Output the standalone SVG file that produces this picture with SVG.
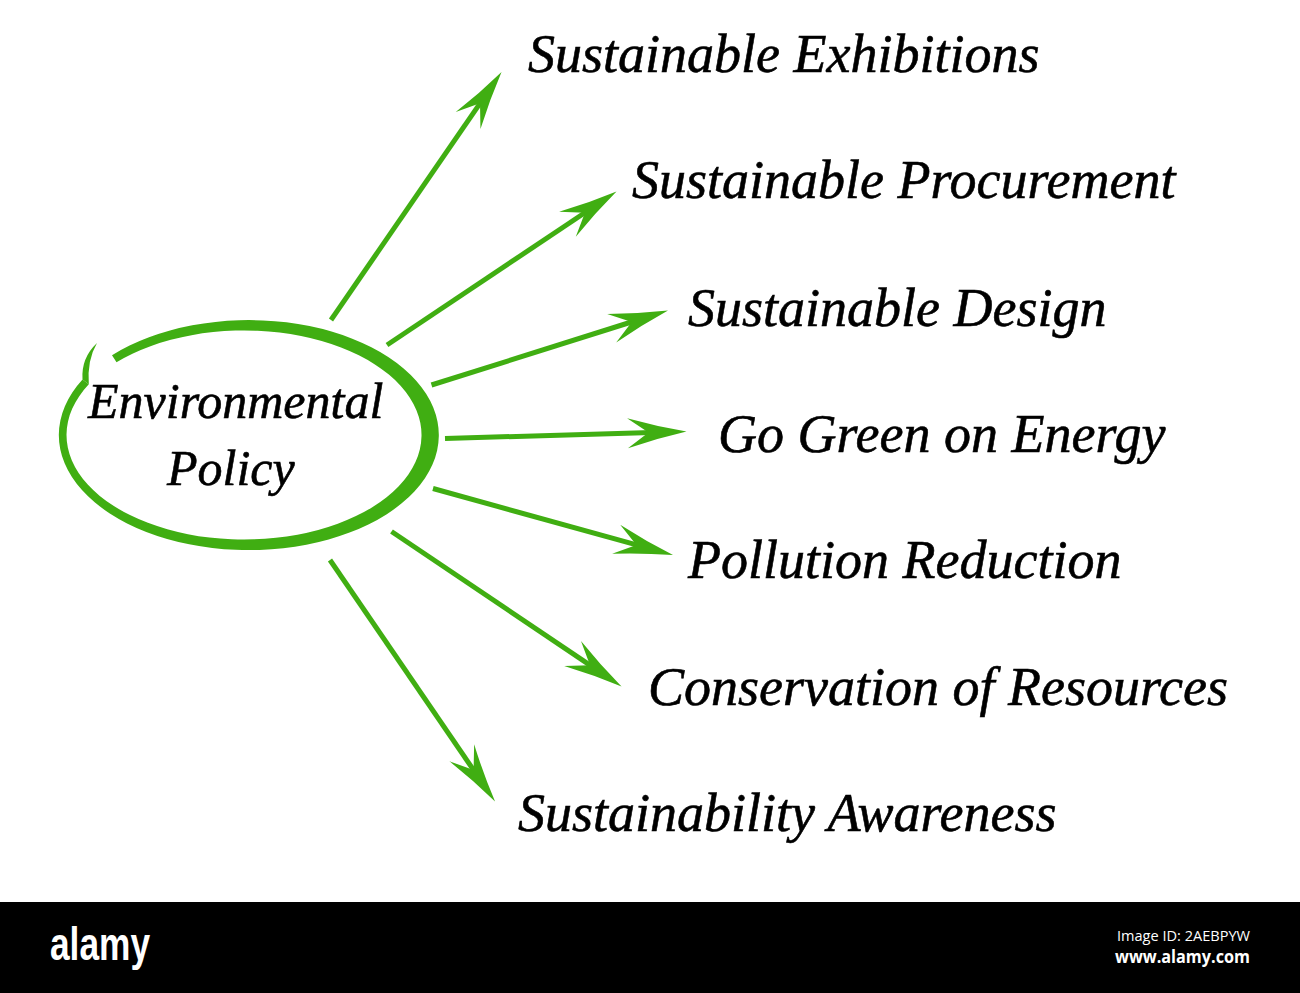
<svg xmlns="http://www.w3.org/2000/svg" width="1300" height="993" viewBox="0 0 1300 993">
  <style>
    .lbl { font-family: "Liberation Serif", "Times New Roman", serif; font-style: italic; font-size: 54px; fill: #000; stroke: #000; stroke-width: 0.6px; }
    .ctr { font-family: "Liberation Serif", "Times New Roman", serif; font-style: italic; font-size: 50px; fill: #000; stroke: #000; stroke-width: 0.6px; }
    .conn { stroke: #40ae12; stroke-width: 5; fill: none; marker-end: url(#head); }
    .ring { fill: #40ae12; }
  </style>
  <defs>
    <marker id="head" viewBox="-30 -20 70 40" markerWidth="70" markerHeight="40" refX="0" refY="0" orient="auto" markerUnits="userSpaceOnUse" overflow="visible">
      <path d="M35,0 Q5,-6 -24,-15 L-3,0 L-24,15 Q5,6 35,0 Z" fill="#40ae12"/>
    </marker>
  </defs>
  <rect x="0" y="0" width="1300" height="993" fill="#ffffff"/>

  <g id="center">
    <path class="ring" d="M112.0,355.3 A190,115 0 1 1 82.5,379.5 L88.8,384.3 A177.5,104.5 0 1 0 116.5,362.3 Z"/>
    <path class="ring" d="M82.5,379.5 Q81,358 97,343 Q87,360 88.8,384.3 Z"/>
    <text class="ctr" x="88" y="418">Environmental</text>
    <text class="ctr" x="167" y="485">Policy</text>
  </g>

  <g id="connectors">
    <line class="conn" x1="331" y1="320" x2="481.7" y2="100.8"/>
    <line class="conn" x1="387" y1="345" x2="587.4" y2="211.0"/>
    <line class="conn" x1="431.5" y1="385" x2="634.6" y2="321.0"/>
    <line class="conn" x1="445" y1="438.5" x2="651.5" y2="432.5"/>
    <line class="conn" x1="433" y1="488.5" x2="639.3" y2="545.7"/>
    <line class="conn" x1="391.5" y1="531.5" x2="592.5" y2="666.9"/>
    <line class="conn" x1="330" y1="560" x2="475.3" y2="772.6"/>
  </g>

  <g id="n1"><text class="lbl" x="528" y="72">Sustainable Exhibitions</text></g>
  <g id="n2"><text class="lbl" x="632" y="198">Sustainable Procurement</text></g>
  <g id="n3"><text class="lbl" x="688" y="326">Sustainable Design</text></g>
  <g id="n4"><text class="lbl" x="718" y="452">Go Green on Energy</text></g>
  <g id="n5"><text class="lbl" x="688" y="578">Pollution Reduction</text></g>
  <g id="n6"><text class="lbl" x="648" y="705">Conservation of Resources</text></g>
  <g id="n7"><text class="lbl" x="518" y="831">Sustainability Awareness</text></g>

  <g id="footer">
    <rect x="0" y="902" width="1300" height="91" fill="#000000"/>
    <text x="50" y="960" font-family="Liberation Sans Narrow, Liberation Sans, sans-serif" font-weight="bold" font-size="46" fill="#ffffff" textLength="100" lengthAdjust="spacingAndGlyphs">alamy</text>
    <text x="1117" y="941" font-family="Open Sans, Noto Sans, sans-serif" font-size="15" fill="#ffffff" textLength="133" lengthAdjust="spacingAndGlyphs">Image ID: 2AEBPYW</text>
    <text x="1115" y="963" font-family="Open Sans, Noto Sans, sans-serif" font-weight="bold" font-size="17" fill="#ffffff" textLength="135" lengthAdjust="spacingAndGlyphs">www.alamy.com</text>
  </g>
</svg>
